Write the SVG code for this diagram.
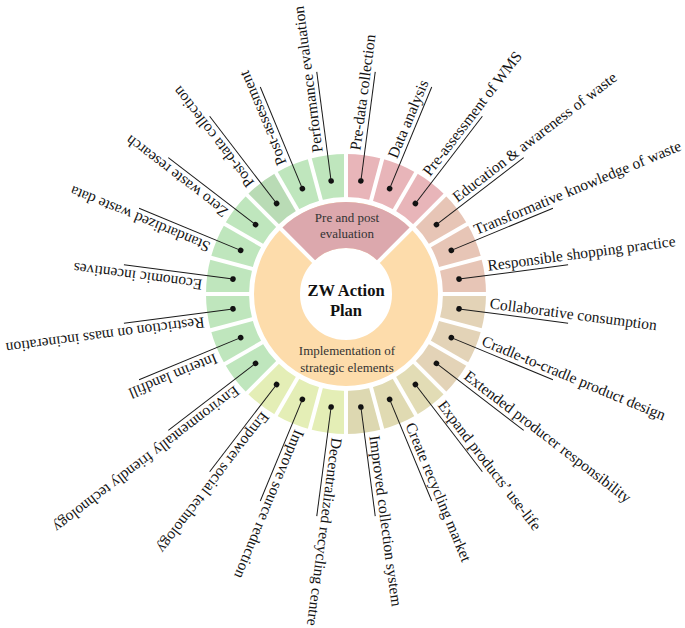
<svg xmlns="http://www.w3.org/2000/svg" width="685" height="628" viewBox="0 0 685 628">
<style>
.seg{fill:none;stroke-width:43}
.mid{fill:none;stroke-width:46}
.sep line{stroke:#fff;stroke-width:4}
.dot{fill:#111}
.lead line{stroke:#1a1a1a;stroke-width:1}
.lbl{font-family:"Liberation Serif","Times New Roman",serif;font-size:15.5px;fill:#151515}
.cen{font-family:"Liberation Serif","Times New Roman",serif;font-size:13px;fill:#333;text-anchor:middle}
.title{font-family:"Liberation Serif","Times New Roman",serif;font-size:16.5px;font-weight:bold;fill:#111;text-anchor:middle}
</style>
<rect width="685" height="628" fill="#fff"/>
<g transform="translate(346 294)">
  <g id="middle-ring">
    <circle class="mid" r="69" stroke="#fddcab"/>
    <circle class="mid" r="69" stroke="#dca8ad" stroke-dasharray="108.38 1000" transform="rotate(-135)"/>
  </g>
  <g id="n-pre-data-collection"><circle class="seg" r="118.5" stroke="#e8b5b9" stroke-dasharray="31.03 1000" transform="rotate(-90)"/><g transform="rotate(-82.5)"><circle class="dot" cx="114" r="2.8"/><text class="lbl" x="144" y="-4.5">Pre-data collection</text></g></g>
  <g id="n-data-analysis"><circle class="seg" r="118.5" stroke="#e8b5b9" stroke-dasharray="31.03 1000" transform="rotate(-75)"/><g transform="rotate(-67.5)"><circle class="dot" cx="114" r="2.8"/><text class="lbl" x="144" y="-4.5">Data analysis</text></g></g>
  <g id="n-pre-assessment"><circle class="seg" r="118.5" stroke="#e8b5b9" stroke-dasharray="31.03 1000" transform="rotate(-60)"/><g transform="rotate(-52.5)"><circle class="dot" cx="114" r="2.8"/><text class="lbl" x="144" y="-4.5">Pre-assessment of WMS</text></g></g>
  <g id="n-education"><circle class="seg" r="118.5" stroke="#e7c5b6" stroke-dasharray="31.03 1000" transform="rotate(-45)"/><g transform="rotate(-37.5)"><circle class="dot" cx="114" r="2.8"/><text class="lbl" x="144" y="-4.5">Education &amp; awareness of waste</text></g></g>
  <g id="n-transformative"><circle class="seg" r="118.5" stroke="#e7c5b6" stroke-dasharray="31.03 1000" transform="rotate(-30)"/><g transform="rotate(-22.5)"><circle class="dot" cx="114" r="2.8"/><text class="lbl" x="143" y="-4.5">Transformative knowledge of waste</text></g></g>
  <g id="n-responsible"><circle class="seg" r="118.5" stroke="#e7c5b6" stroke-dasharray="31.03 1000" transform="rotate(-15)"/><g transform="rotate(-7.5)"><circle class="dot" cx="114" r="2.8"/><text class="lbl" x="144" y="-4.5">Responsible shopping practice</text></g></g>
  <g id="n-collaborative"><circle class="seg" r="118.5" stroke="#e3d3b7" stroke-dasharray="31.03 1000" transform="rotate(0)"/><g transform="rotate(7.5)"><circle class="dot" cx="114" r="2.8"/><text class="lbl" x="144" y="-4.5">Collaborative consumption</text></g></g>
  <g id="n-cradle"><circle class="seg" r="118.5" stroke="#e3d3b7" stroke-dasharray="31.03 1000" transform="rotate(15)"/><g transform="rotate(22.5)"><circle class="dot" cx="114" r="2.8"/><text class="lbl" x="144" y="-4.5">Cradle-to-cradle product design</text></g></g>
  <g id="n-extended"><circle class="seg" r="118.5" stroke="#e3d3b7" stroke-dasharray="31.03 1000" transform="rotate(30)"/><g transform="rotate(37.5)"><circle class="dot" cx="114" r="2.8"/><text class="lbl" x="144" y="-4.5">Extended producer responsibility</text></g></g>
  <g id="n-expand"><circle class="seg" r="118.5" stroke="#e2dcb5" stroke-dasharray="31.03 1000" transform="rotate(45)"/><g transform="rotate(52.5)"><circle class="dot" cx="114" r="2.8"/><text class="lbl" x="144" y="-4.5">Expand products’ use-life</text></g></g>
  <g id="n-create"><circle class="seg" r="118.5" stroke="#e0dab2" stroke-dasharray="31.03 1000" transform="rotate(60)"/><g transform="rotate(67.5)"><circle class="dot" cx="114" r="2.8"/><text class="lbl" x="144" y="-4.5">Create recycling market</text></g></g>
  <g id="n-improved-collection"><circle class="seg" r="118.5" stroke="#ddd8b1" stroke-dasharray="31.03 1000" transform="rotate(75)"/><g transform="rotate(82.5)"><circle class="dot" cx="114" r="2.8"/><text class="lbl" x="144" y="-4.5">Improved collection system</text></g></g>
  <g id="n-decentralized"><circle class="seg" r="118.5" stroke="#e4eeb6" stroke-dasharray="31.03 1000" transform="rotate(90)"/><g transform="rotate(97.5)"><circle class="dot" cx="114" r="2.8"/><text class="lbl" x="144" y="-4.5">Decentralized recycling centre</text></g></g>
  <g id="n-source-reduction"><circle class="seg" r="118.5" stroke="#e4eeb6" stroke-dasharray="31.03 1000" transform="rotate(105)"/><g transform="rotate(112.5)"><circle class="dot" cx="114" r="2.8"/><text class="lbl" x="144" y="-4.5">Improve source reduction</text></g></g>
  <g id="n-social-tech"><circle class="seg" r="118.5" stroke="#e4eeb6" stroke-dasharray="31.03 1000" transform="rotate(120)"/><g transform="rotate(127.5)"><circle class="dot" cx="114" r="2.8"/><text class="lbl" x="144" y="-4.5">Empower social technology</text></g></g>
  <g id="n-env-tech"><circle class="seg" r="118.5" stroke="#bfe6bd" stroke-dasharray="31.03 1000" transform="rotate(135)"/><g transform="rotate(142.5)"><circle class="dot" cx="114" r="2.8"/><text class="lbl" x="144" y="-4.5">Environmentally friendly technology</text></g></g>
  <g id="n-interim-landfill"><circle class="seg" r="118.5" stroke="#bfe6bd" stroke-dasharray="31.03 1000" transform="rotate(150)"/><g transform="rotate(157.5)"><circle class="dot" cx="114" r="2.8"/><text class="lbl" x="144" y="-4.5">Interim landfill</text></g></g>
  <g id="n-restriction"><circle class="seg" r="118.5" stroke="#bfe6bd" stroke-dasharray="31.03 1000" transform="rotate(165)"/><g transform="rotate(172.5)"><circle class="dot" cx="114" r="2.8"/><text class="lbl" x="144" y="-4.5">Restriction on mass incineration</text></g></g>
  <g id="n-economic"><circle class="seg" r="118.5" stroke="#bfe6bd" stroke-dasharray="31.03 1000" transform="rotate(180)"/><g transform="rotate(187.5)"><circle class="dot" cx="114" r="2.8"/><text class="lbl" x="144" y="-4.5">Economic incentives</text></g></g>
  <g id="n-standardized"><circle class="seg" r="118.5" stroke="#bfe6bd" stroke-dasharray="31.03 1000" transform="rotate(195)"/><g transform="rotate(202.5)"><circle class="dot" cx="114" r="2.8"/><text class="lbl" x="144" y="-4.5">Standardized waste data</text></g></g>
  <g id="n-zw-research"><circle class="seg" r="118.5" stroke="#bfe6bd" stroke-dasharray="31.03 1000" transform="rotate(210)"/><g transform="rotate(217.5)"><circle class="dot" cx="114" r="2.8"/><text class="lbl" x="144" y="-4.5">Zero waste research</text></g></g>
  <g id="n-post-data"><circle class="seg" r="118.5" stroke="#b9dbb5" stroke-dasharray="31.03 1000" transform="rotate(225)"/><g transform="rotate(232.5)"><circle class="dot" cx="114" r="2.8"/><text class="lbl" x="144" y="-4.5">Post-data collection</text></g></g>
  <g id="n-post-assessment"><circle class="seg" r="118.5" stroke="#bfe6bd" stroke-dasharray="31.03 1000" transform="rotate(240)"/><g transform="rotate(247.5)"><circle class="dot" cx="114" r="2.8"/><text class="lbl" x="144" y="-4.5">Post-assessment</text></g></g>
  <g id="n-performance"><circle class="seg" r="118.5" stroke="#bfe6bd" stroke-dasharray="31.03 1000" transform="rotate(255)"/><g transform="rotate(262.5)"><circle class="dot" cx="114" r="2.8"/><text class="lbl" x="144" y="-4.5">Performance evaluation</text></g></g>
  <g class="sep" id="separators">
    <line y1="-95" y2="-143" transform="rotate(0)"/><line y1="-95" y2="-143" transform="rotate(15)"/><line y1="-95" y2="-143" transform="rotate(30)"/><line y1="-95" y2="-143" transform="rotate(45)"/>
    <line y1="-95" y2="-143" transform="rotate(60)"/><line y1="-95" y2="-143" transform="rotate(75)"/><line y1="-95" y2="-143" transform="rotate(90)"/><line y1="-95" y2="-143" transform="rotate(105)"/>
    <line y1="-95" y2="-143" transform="rotate(120)"/><line y1="-95" y2="-143" transform="rotate(135)"/><line y1="-95" y2="-143" transform="rotate(150)"/><line y1="-95" y2="-143" transform="rotate(165)"/>
    <line y1="-95" y2="-143" transform="rotate(180)"/><line y1="-95" y2="-143" transform="rotate(195)"/><line y1="-95" y2="-143" transform="rotate(210)"/><line y1="-95" y2="-143" transform="rotate(225)"/>
    <line y1="-95" y2="-143" transform="rotate(240)"/><line y1="-95" y2="-143" transform="rotate(255)"/><line y1="-95" y2="-143" transform="rotate(270)"/><line y1="-95" y2="-143" transform="rotate(285)"/>
    <line y1="-95" y2="-143" transform="rotate(300)"/><line y1="-95" y2="-143" transform="rotate(315)"/><line y1="-95" y2="-143" transform="rotate(330)"/><line y1="-95" y2="-143" transform="rotate(345)"/>
    <line y1="-44" y2="-94" transform="rotate(-45)"/><line y1="-44" y2="-94" transform="rotate(45)"/>
  </g>
  <g id="connectors" class="lead">
    <line x1="114" x2="224" transform="rotate(-82.5)"/><line x1="114" x2="224" transform="rotate(-67.5)"/><line x1="114" x2="224" transform="rotate(-52.5)"/><line x1="114" x2="224" transform="rotate(-37.5)"/>
    <line x1="114" x2="224" transform="rotate(-22.5)"/><line x1="114" x2="224" transform="rotate(-7.5)"/><line x1="114" x2="224" transform="rotate(7.5)"/><line x1="114" x2="224" transform="rotate(22.5)"/>
    <line x1="114" x2="224" transform="rotate(37.5)"/><line x1="114" x2="224" transform="rotate(52.5)"/><line x1="114" x2="224" transform="rotate(67.5)"/><line x1="114" x2="224" transform="rotate(82.5)"/>
    <line x1="114" x2="224" transform="rotate(97.5)"/><line x1="114" x2="224" transform="rotate(112.5)"/><line x1="114" x2="224" transform="rotate(127.5)"/><line x1="114" x2="224" transform="rotate(142.5)"/>
    <line x1="114" x2="224" transform="rotate(157.5)"/><line x1="114" x2="224" transform="rotate(172.5)"/><line x1="114" x2="224" transform="rotate(187.5)"/><line x1="114" x2="224" transform="rotate(202.5)"/>
    <line x1="114" x2="224" transform="rotate(217.5)"/><line x1="114" x2="224" transform="rotate(232.5)"/><line x1="114" x2="224" transform="rotate(247.5)"/><line x1="114" x2="224" transform="rotate(262.5)"/>
  </g>
  <g id="n-pre-post">
    <text class="cen" x="1" y="-72">Pre and post</text>
    <text class="cen" x="1" y="-56">evaluation</text>
  </g>
  <g id="n-implementation">
    <text class="cen" x="1" y="61">Implementation of</text>
    <text class="cen" x="1" y="77.5">strategic elements</text>
  </g>
  <g id="n-center">
    <text class="title" x="0" y="2">ZW Action</text>
    <text class="title" x="0" y="22">Plan</text>
  </g>
</g>
</svg>
